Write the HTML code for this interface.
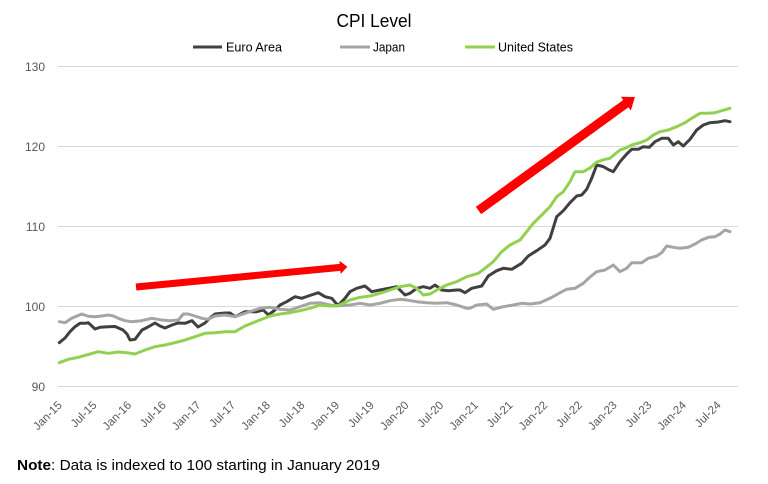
<!DOCTYPE html>
<html>
<head>
<meta charset="utf-8">
<style>
  html, body { margin: 0; padding: 0; background: #ffffff; }
  body { width: 768px; height: 484px; overflow: hidden; }
  svg { display: block; font-family: "Liberation Sans", Arial, sans-serif; }
</style>
</head>
<body>
<svg width="768" height="484" viewBox="0 0 768 484" xmlns="http://www.w3.org/2000/svg">
  <rect x="0" y="0" width="768" height="484" fill="#ffffff"/>

  <!-- Title -->
  <text x="374" y="27" font-size="18" fill="#000000" text-anchor="middle" textLength="75" lengthAdjust="spacingAndGlyphs">CPI Level</text>

  <!-- Legend -->
  <line x1="193" y1="47" x2="222" y2="47" stroke="#404040" stroke-width="3"/>
  <text x="226" y="51.5" font-size="12.5" fill="#000000" textLength="56" lengthAdjust="spacingAndGlyphs">Euro Area</text>
  <line x1="340" y1="47" x2="370" y2="47" stroke="#A5A5A5" stroke-width="3"/>
  <text x="373" y="51.5" font-size="12.5" fill="#000000" textLength="32" lengthAdjust="spacingAndGlyphs">Japan</text>
  <line x1="465" y1="47" x2="495" y2="47" stroke="#92D050" stroke-width="3"/>
  <text x="498" y="51.5" font-size="12.5" fill="#000000" textLength="75" lengthAdjust="spacingAndGlyphs">United States</text>

  <!-- Gridlines -->
  <g stroke="#D9D9D9" stroke-width="1">
    <line x1="57.5" y1="66.5" x2="738" y2="66.5"/>
    <line x1="57.5" y1="146.5" x2="738" y2="146.5"/>
    <line x1="57.5" y1="226.5" x2="738" y2="226.5"/>
    <line x1="57.5" y1="306.5" x2="738" y2="306.5"/>
    <line x1="57.5" y1="386.5" x2="738" y2="386.5"/>
  </g>

  <!-- Y labels -->
  <g font-size="12" fill="#595959" text-anchor="end">
    <text x="45" y="71">130</text>
    <text x="45" y="151">120</text>
    <text x="45" y="231">110</text>
    <text x="45" y="311">100</text>
    <text x="45" y="391">90</text>
  </g>

  <!-- X labels -->
  <g font-size="11.5" fill="#595959" text-anchor="end">
    <text transform="translate(59.8,403) rotate(-45)" dy="0.35em">Jan-15</text>
    <text transform="translate(94.5,403) rotate(-45)" dy="0.35em">Jul-15</text>
    <text transform="translate(129.2,403) rotate(-45)" dy="0.35em">Jan-16</text>
    <text transform="translate(163.8,403) rotate(-45)" dy="0.35em">Jul-16</text>
    <text transform="translate(198.5,403) rotate(-45)" dy="0.35em">Jan-17</text>
    <text transform="translate(233.2,403) rotate(-45)" dy="0.35em">Jul-17</text>
    <text transform="translate(267.9,403) rotate(-45)" dy="0.35em">Jan-18</text>
    <text transform="translate(302.6,403) rotate(-45)" dy="0.35em">Jul-18</text>
    <text transform="translate(337.2,403) rotate(-45)" dy="0.35em">Jan-19</text>
    <text transform="translate(371.9,403) rotate(-45)" dy="0.35em">Jul-19</text>
    <text transform="translate(406.6,403) rotate(-45)" dy="0.35em">Jan-20</text>
    <text transform="translate(441.3,403) rotate(-45)" dy="0.35em">Jul-20</text>
    <text transform="translate(476.0,403) rotate(-45)" dy="0.35em">Jan-21</text>
    <text transform="translate(510.6,403) rotate(-45)" dy="0.35em">Jul-21</text>
    <text transform="translate(545.3,403) rotate(-45)" dy="0.35em">Jan-22</text>
    <text transform="translate(580.0,403) rotate(-45)" dy="0.35em">Jul-22</text>
    <text transform="translate(614.7,403) rotate(-45)" dy="0.35em">Jan-23</text>
    <text transform="translate(649.4,403) rotate(-45)" dy="0.35em">Jul-23</text>
    <text transform="translate(684.0,403) rotate(-45)" dy="0.35em">Jan-24</text>
    <text transform="translate(718.7,403) rotate(-45)" dy="0.35em">Jul-24</text>
  </g>

  <!-- Series -->
  <g fill="none" stroke-width="3" stroke-linejoin="round" stroke-linecap="round">
    <polyline stroke="#404040" points="59.3,342.7 65,338 70,331.7 75,326.7 80,323.3 85,323.3 88.3,322.7 95,329 100,327.3 108,326.7 115,326.5 123,330 127,334 130,340 135,339.3 142,330 148,327 155,323 160,326 165,328 172,325 178,323 185,323.3 192,320.7 198,327 205,323 210,318 215,314 225,313 230,313 235,316.7 245,311.7 250,311.7 256.7,311.7 263.3,310 268.3,315 275,310 280,305 286.7,301.7 295,296.7 301.7,298.3 308.3,296 318.3,292.7 325,296.7 331.7,298.3 338,305.5 345,298.3 350,291.7 356.7,288.3 365,286 371.7,291.7 380,290 388.3,288.3 396.7,286.7 405,295 410,293.3 416.7,288.3 423.3,286.7 430,288.3 435,285 441.7,290 448.3,290.7 456.7,290 460,290 465,292.7 471.7,288.3 481.7,286 488.3,276 496.7,270.7 503.3,268.3 511.7,269.3 521.7,263.3 528.3,256 536.7,250.7 545,245 550,238.3 556.7,216.7 563.3,210.7 570,202.7 576.7,196 581.7,195 586.7,189.3 591.7,178.3 596.7,165 603,166.5 608.3,169.5 613.3,171.7 620,161.7 626.7,154 631.7,149.3 638.3,149.3 643.3,146.7 649.3,147.3 655,141.7 661.7,138.3 668.3,138.3 673.3,145 678.3,141.7 683.3,146 690,139.3 696.7,130 703.3,125 710,122.7 718.3,122 725,120.7 730,121.7"/>
    <polyline stroke="#A5A5A5" points="59.3,321.7 65,322.7 71.7,318.3 81.7,314 88.3,316.3 95,316.7 101.7,316 108.3,315 113.3,316 118.3,318.3 125,320.7 131.7,321.7 141.7,320.7 151.7,318.3 161.7,320 170,320.7 178.3,320 183.3,314 188.3,314 195,316 201.7,318.3 208.3,319.3 215,316 225,315 235,316.7 245,313.3 252,311 260,308.3 270,307.3 280,309.3 290,310 300,306.7 310,303.3 320,302.7 330,305 338,305.7 350,305 360,303.3 370,305 380,303.3 390,300.7 400,299.3 406.7,300 416.7,301.7 426.7,302.7 436.7,303.3 446.7,302.7 456.7,305 466.7,308.3 470,308.3 476.7,305 486.7,304 493.3,309.3 503.3,306.7 513.3,305 521.7,303.3 530,304 540,302.7 550,298.3 560,292.7 566.7,289.3 575,288.3 583.3,283.3 590,277 596.7,271.7 605,270 613.3,265 620,271.7 626.7,268.3 631.7,262.7 641.7,262.7 648.3,258.3 656.7,256 661.7,252.7 666.7,246 673.3,247.3 680,248.3 688.3,247.3 695,244 701.7,240 708.3,237.3 715,236.7 720,234 725,230 730,231.7"/>
    <polyline stroke="#92D050" points="59.3,362.7 68.3,359.3 78.3,357.3 88.3,354.5 98.3,351.7 108.3,353.3 118.3,352 126.7,352.7 135,354 145,350 155,346.7 165,345 175,342.7 185,340 195,336.7 205,333.3 215,332.7 225,331.7 235,331.7 245,326 250,324 260,320 270,316 280,314 290,312.7 300,310.7 310,308.3 320,305 330,306 338,305.7 350,300 360,297.3 370,296 380,293.3 390,290 400,286.7 410,285 416.7,288.3 423.3,295 430,294 436.7,290 446.7,285 456.7,281.7 466.7,276.7 478.3,273.3 485,268.3 493.3,261.7 501.7,251.7 510,245 520,240 526.7,231.7 533.3,223.3 541.7,215 550,206.7 556.7,196.7 563.3,191.7 570,181.7 575,171.7 583.3,171.7 590,168 596.7,162 605,159.3 610,158.3 615,154 620,150 625,148.3 631.7,145 640,142.7 646.7,140 653.3,135 660,131.7 668.3,130 676.7,126.7 685,122.7 691.7,118.3 700,113.3 708.3,113.3 715,112.7 721.7,110.7 730,108.3"/>
  </g>

  <!-- Red arrows -->
  <polygon fill="#FF0000" transform="translate(136,287) rotate(-5.49)" points="0,-3.5 205,-3.5 205,-6.7 212.3,0 205,6.7 205,3.5 0,3.5"/>
  <polygon fill="#FF0000" transform="translate(478.5,210.5) rotate(-35.95)" points="0,-4.5 182,-4.5 182,-8.5 193.3,0 182,8.5 182,4.5 0,4.5"/>

  <!-- Note -->
  <text x="17" y="470" font-size="15" fill="#000000" textLength="363" lengthAdjust="spacingAndGlyphs"><tspan font-weight="bold">Note</tspan>: Data is indexed to 100 starting in January 2019</text>
</svg>
</body>
</html>
